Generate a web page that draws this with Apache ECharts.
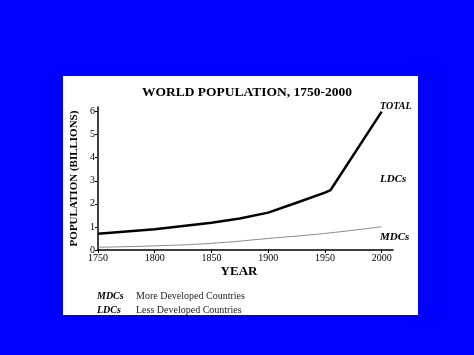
<!DOCTYPE html>
<html>
<head>
<meta charset="utf-8">
<script src="https://cdn.jsdelivr.net/npm/echarts@6/dist/echarts.min.js"></script>
<style>
html,body{margin:0;padding:0;background:#0000fe;}
#wrap{position:absolute;left:0;top:0;width:474px;height:355px;background:#0000fe;}
#panel{position:absolute;left:63px;top:76px;width:355px;height:239px;background:#fff;}
#chart{position:absolute;left:0;top:0;width:474px;height:355px;}
</style>
</head>
<body>
<div id="wrap"><div id="panel"></div><div id="chart"></div></div>
<script>
var years = [1750, 1800, 1850, 1875, 1900, 1925, 1950, 1955, 2000];
var totalValues = [0.7, 0.9, 1.18, 1.37, 1.62, 2.05, 2.49, 2.6, 6.0];
var mdcYears = [1750, 1800, 1850, 1900, 1950, 2000];
var mdcValues = [0.12, 0.18, 0.29, 0.5, 0.72, 1.01];
var xTicks = [1750, 1800, 1850, 1900, 1950, 2000];
var yTicks = [0, 1, 2, 3, 4, 5, 6];
var chartTitle = 'WORLD POPULATION, 1750-2000';
var yName = 'POPULATION (BILLIONS)';
var xName = 'YEAR';
var seriesLabels = ['TOTAL', 'LDCs', 'MDCs'];
var notes = [['MDCs', 'More Developed Countries'], ['LDCs', 'Less Developed Countries']];

var serif = 'Liberation Serif';
var chart = echarts.init(document.getElementById('chart'), null, {renderer: 'canvas'});
var totalData = years.map(function (y, i) { return [y, totalValues[i]]; });
var mdcData = mdcYears.map(function (y, i) { return [y, mdcValues[i]]; });

var graphics = [
  {type: 'text', left: 380, top: 101, style: {text: seriesLabels[0], font: 'italic bold 10px "Liberation Serif"', fill: '#000'}},
  {type: 'text', left: 380, top: 174, style: {text: seriesLabels[1], font: 'italic bold 11px "Liberation Serif"', fill: '#000'}},
  {type: 'text', left: 380, top: 232, style: {text: seriesLabels[2], font: 'italic bold 11px "Liberation Serif"', fill: '#000'}}
];
notes.forEach(function (n, i) {
  graphics.push({type: 'text', left: 97, top: 291 + i * 14, style: {text: n[0], font: 'italic bold 10px "Liberation Serif"', fill: '#000'}});
  graphics.push({type: 'text', left: 136, top: 291 + i * 14, style: {text: n[1], font: '10px "Liberation Serif"', fill: '#222'}});
});

chart.setOption({
  backgroundColor: 'transparent',
  animation: false,
  title: {
    text: chartTitle, left: 242, top: 81, textAlign: 'center',
    textStyle: {fontFamily: serif, fontWeight: 'bold', fontSize: 13.5, color: '#000'}
  },
  grid: {left: 98, right: 81, top: 107, bottom: 105, containLabel: false},
  xAxis: {
    type: 'value', min: 1750, max: 2010, interval: 50,
    name: xName, nameLocation: 'middle', nameGap: 15,
    nameTextStyle: {fontFamily: serif, fontWeight: 'bold', fontSize: 13, color: '#000', padding: [0, 13, 0, 0], verticalAlign: 'top'},
    splitLine: {show: false},
    axisLine: {lineStyle: {color: '#000', width: 1.5}},
    axisTick: {show: true, length: 3, customValues: xTicks, lineStyle: {color: '#000'}},
    axisLabel: {customValues: xTicks, formatter: function (v) { return String(v); }, fontFamily: serif, fontSize: 10, color: '#000', margin: 3}
  },
  yAxis: {
    type: 'value', min: 0, max: 6.2, interval: 1,
    name: yName, nameLocation: 'middle', nameRotate: 90, nameGap: 18, nameMoveOverlap: false,
    nameTextStyle: {fontFamily: serif, fontWeight: 'bold', fontSize: 11, color: '#000', padding: [0, 0, 0, 0]},
    splitLine: {show: false},
    axisLine: {show: true, lineStyle: {color: '#000', width: 1.5}},
    axisTick: {show: true, length: 3, customValues: yTicks, lineStyle: {color: '#000'}},
    axisLabel: {customValues: yTicks, formatter: function (v) { return String(v); }, fontFamily: serif, fontSize: 10, color: '#000', margin: 3}
  },
  series: [
    {type: 'line', name: 'TOTAL', data: totalData, smooth: false, symbol: 'none',
     lineStyle: {color: '#000', width: 2.5}},
    {type: 'line', name: 'MDCs', data: mdcData, smooth: true, symbol: 'none',
     lineStyle: {color: '#888', width: 1}}
  ],
  graphic: graphics
});
</script>
</body>
</html>
